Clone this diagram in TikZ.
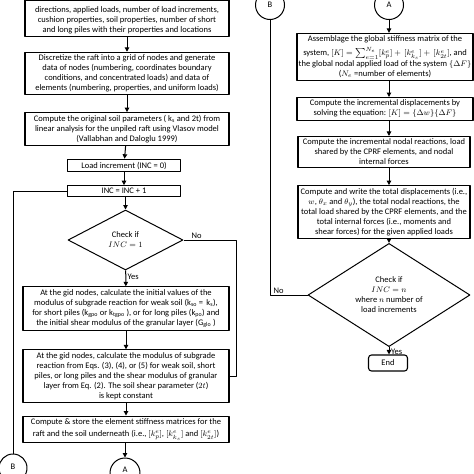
\documentclass[tikz,border=0pt]{standalone}
\usepackage{fontspec}
\setmainfont{Carlito}
\usetikzlibrary{arrows.meta,shapes.geometric}
\begin{document}
\begin{tikzpicture}[x=1pt,y=-1pt,>={Triangle[length=4.5pt,width=4.5pt]},line join=round,
	font=\fontsize{8.5}{10}\selectfont,
	box/.style={draw,line width=1.1pt,align=center,inner xsep=1pt,inner ysep=2.5pt,minimum width=#1},
	box/.default=206pt,
	chk/.style={draw,diamond,line width=1pt,align=center,inner sep=0pt},
	conn/.style={draw,circle,line width=1pt,inner sep=0pt,minimum size=#1},
	conn/.default=29pt,
	flow/.style={->,line width=1pt},
	lbl/.style={inner sep=1pt}
	]
	\useasboundingbox (0,0) rectangle (474,474);
	%	left column
	\node[box=204pt,anchor=south] (input) at (127,37) {\mbox{}\\
		directions, applied loads, number of load increments,\\
		cushion properties, soil properties, number of short\\
		and long piles with their properties and locations};
	\node[box=204pt] (grid) at (127,73.5) {Discretize the raft into a grid of nodes and generate\\
		data of nodes (numbering, coordinates boundary\\
		conditions, and concentrated loads) and data of\\
		elements (numbering, properties, and uniform loads)};
	\node[box=204pt] (soil) at (127,129) {Compute the original soil parameters ( k\textsubscript{s} and 2t) from\\
		linear analysis for the unpiled raft using Vlasov model\\
		(Vallabhan and Daloglu 1999)};
	\node[box=113pt] (load) at (124,165.5) {Load increment (INC = 0)};
	\node[box=113pt] (inc) at (124,191) {INC = INC + 1};
	\node[chk,minimum width=115pt,minimum height=60pt] (chk1) at (125.5,240) {Check if\\ $INC=1$};
	\node[box] (init) at (126,308.5) {At the gid nodes, calculate the initial values of the\\
		modulus of subgrade reaction for weak soil (k\textsubscript{so} = \,k\textsubscript{s}),\\
		for short piles (k\textsubscript{gpo} or k\textsubscript{tgpo} ), or for long piles (k\textsubscript{po}) and\\
		the initial shear modulus of the granular layer (G\textsubscript{glo} )};
	\node[box] (modul) at (126,376) {At the gid nodes, calculate the modulus of subgrade\\
		reaction from Eqs. (3), (4), or (5) for weak soil, short\\
		piles, or long piles and the shear modulus of granular\\
		layer from Eq. (2). The soil shear parameter ($2t$)\\
		is kept constant};
	\node[box] (elem) at (126,429.5) {Compute \& store the element stiffness matrices for the\\[2pt]
		raft and the soil underneath (i.e., $[k_p^e]$, $[k_{k_s}^e]$ and $[k_{2t}^e]$)};
	\node[conn=30pt] (inA) at (125,473) {\raisebox{6pt}{A}};
	\node[conn=28pt] (inB) at (13,468) {\raisebox{3pt}{B}};
	
	%	right column
	\coordinate (raxis) at (389,0);
	\node[conn=29pt] (outB) at (270,5) {\raisebox{-4pt}{B}};
	\node[conn=29pt] (outA) at (389,5) {\raisebox{-3pt}{A}};
	\node[box=176pt] (asm) at (385,57) {Assemblage the global stiffness matrix of the\\[3pt]
		system, $[K]=\sum_{e=1}^{N_e}[k_p^e]+\,[k_{k_s}^e]+\,[k_{2t}^e]$, and\\[1pt]
		the global nodal applied load of the system $\{\Delta F\}$\\
		($N_e$ =number of elements)};
	\node[box=176pt] (solve) at (385,109) {Compute the incremental displacements by\\
		solving the equation: $[K]=\{\Delta w\}\{\Delta F\}$};
	\node[box=172pt] (react) at (384,152) {Compute the incremental nodal reactions, load\\
		shared by the CPRF elements, and nodal\\
		internal forces};
	\node[box=172pt] (total) at (384,212) {Compute and write the total displacements (i.e.,\\
		$w$, $\theta_x$ and $\theta_y$), the total nodal reactions, the\\
		total load shared by the CPRF elements, and the\\
		total internal forces (i.e., moments and\\
		shear forces) for the given applied loads};
	\node[chk,minimum width=162pt,minimum height=80pt] (chk2) at (389,295) {Check if\\ $INC=n$\\
		where $n$ number of\\ load increments};
	\node[draw,line width=1.1pt,rounded corners=3pt,minimum width=39pt,minimum height=16pt,inner sep=1pt] (end) at (388,363) {End};
	
	%	connectors
	\draw[flow] (input) -- (grid);
	\draw[flow] (grid) -- (soil);
	\draw[flow] (soil) -- (load);
	\draw[flow] (load) -- (inc);
	\draw[flow] (inc.south -| chk1) -- (chk1);
	\draw[flow] (chk1) -- (init);
	\draw[flow] (init) -- (modul);
	\draw[flow] (modul) -- (elem);
	\draw[flow] (elem.south -| inA) -- (inA);
	\draw[line width=1pt] (chk1.east) -- ++(53,0) |- (modul.east);
	\draw[line width=1pt] (inB) |- (inc.west);
	\node[lbl,anchor=south west] at ([xshift=7pt]chk1.east) {No};
	\node[lbl,anchor=north west] at ([xshift=1pt,yshift=-2pt]chk1.south) {Yes};
	
	\draw[flow] (outA) -- (asm.north -| raxis);
	\draw[flow] (asm.south -| raxis) -- (solve.north -| raxis);
	\draw[flow] (solve.south -| raxis) -- (react.north -| raxis);
	\draw[flow] (react.south -| raxis) -- (total.north -| raxis);
	\draw[flow] (total.south -| raxis) -- (chk2);
	\draw[flow] (chk2) -- (end.north -| chk2);
	\draw[line width=1pt] (chk2.west) -| (outB);
	\node[lbl,anchor=south] at ([xshift=-29pt]chk2.west) {No};
	\node[lbl,anchor=north west] at ([xshift=1pt,yshift=-1pt]chk2.south) {Yes};
\end{tikzpicture}
\end{document}
